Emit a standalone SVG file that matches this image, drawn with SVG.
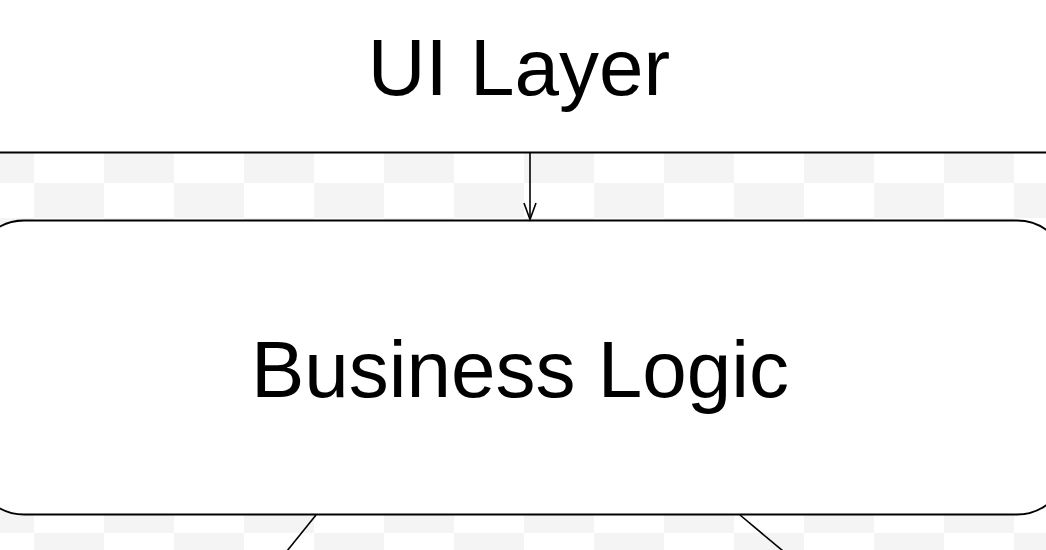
<svg xmlns="http://www.w3.org/2000/svg" width="1046" height="550" viewBox="0 0 1046 550">
  <defs>
    <pattern id="checker" patternUnits="userSpaceOnUse" x="-36" y="148" width="140" height="70">
      <rect x="0" y="0" width="140" height="70" fill="#ffffff"/>
      <rect x="0" y="0" width="70" height="35" fill="#f4f4f4"/>
      <rect x="70" y="35" width="70" height="35" fill="#f4f4f4"/>
    </pattern>
    <style>
      .node { fill: #ffffff; stroke: #000000; stroke-width: 1.8; }
      .label { font-family: "Liberation Sans", Arial, sans-serif; fill: #000000; text-anchor: middle; }
      .edge { fill: none; stroke: #000000; stroke-width: 1.6; }
    </style>
  </defs>
  <rect x="0" y="0" width="1046" height="550" fill="url(#checker)"/>
  <g id="ui-layer">
    <rect class="node" x="-60" y="-120" width="1166" height="272.5" rx="50" ry="50"/>
    <text class="label" x="519" y="95" font-size="80">UI Layer</text>
  </g>
  <g id="business-logic">
    <rect class="node" x="-26" y="220.5" width="1093" height="294" rx="50" ry="50"/>
    <text class="label" x="520" y="397" font-size="80">Business Logic</text>
  </g>
  <g id="connectors">
    <line class="edge" x1="530" y1="153" x2="530" y2="219"/>
    <path class="edge" d="M524,203 L530,219.5 L536,203"/>
    <line class="edge" x1="316" y1="515" x2="287" y2="551"/>
    <line class="edge" x1="740" y1="515" x2="783" y2="551"/>
  </g>
</svg>
